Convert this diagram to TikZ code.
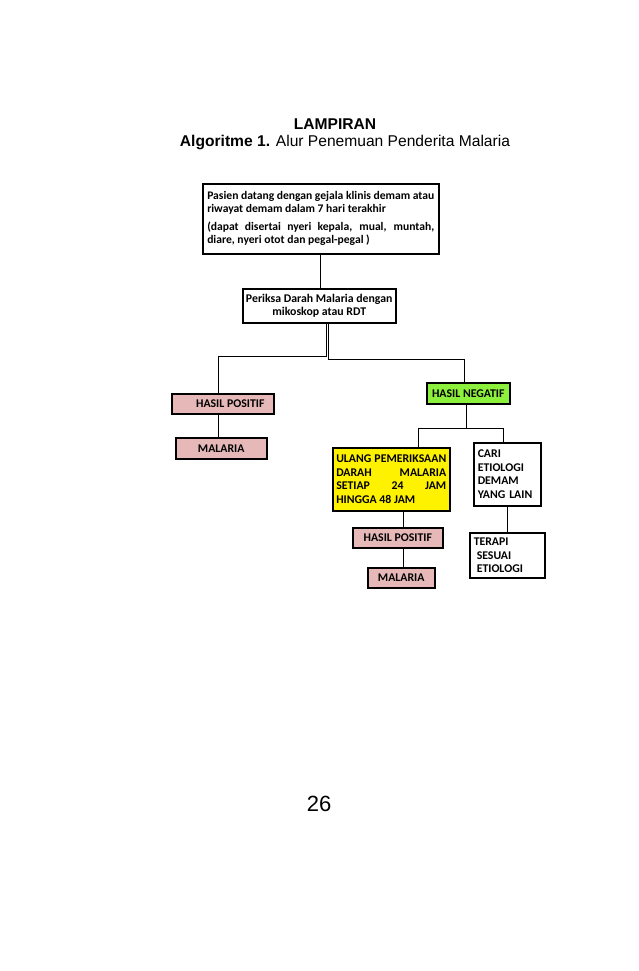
\documentclass[tikz,border=0pt]{standalone}
\usepackage{fontspec}
\setmainfont{Liberation Sans}
\newfontfamily\boxfont{Carlito}
\usetikzlibrary{positioning,calc}
\definecolor{pinkfill}{RGB}{230,185,184}
\definecolor{greenfill}{RGB}{140,240,60}
\tikzset{
  % block style is used for every box of the flowchart
  block/.style={draw, rectangle, line width=1.5pt, anchor=north west, inner sep=0pt,
  font=\boxfont\bfseries\fontsize{11.8}{13.5}\selectfont},
  pinkbox/.style={block, fill=pinkfill},
  link/.style={line width=1.4pt}}
\begin{document}
\begin{tikzpicture}[x=1pt, y=-1pt]
\useasboundingbox [fill=white] (0,0) rectangle (638,971);

\draw (335,124) node (title) {\fontsize{15.6}{18}\selectfont\bfseries LAMPIRAN};
\draw (345,143) node (subtitle) {\fontsize{15.6}{18}\selectfont\textbf{Algoritme 1.} Alur Penemuan Penderita Malaria};

\draw (202,183) node (gejala) [block, minimum width=236pt, minimum height=70pt] {};
\draw (gejala.center) node [font=\boxfont\bfseries\fontsize{11.6}{13}\selectfont, text width=227pt, align=justify]
  {\hyphenpenalty=10000 Pasien datang dengan gejala klinis demam atau\linebreak riwayat demam dalam 7 hari terakhir\par\vspace{5pt}
   (dapat disertai nyeri kepala, mual, muntah,\linebreak diare, nyeri otot dan pegal-pegal )};

\draw (242,288) node (periksa) [block, minimum width=153pt, minimum height=34pt, align=center]
  {Periksa Darah Malaria dengan\\mikoskop atau RDT};

\draw (171,393) node (pos1) [pinkbox, minimum width=102pt, minimum height=20pt] {\hspace{15pt}HASIL POSITIF};
\draw (175,437) node (mal1) [pinkbox, minimum width=91pt, minimum height=21pt] {MALARIA};

\draw (426,382) node (neg) [block, fill=greenfill, minimum width=83pt, minimum height=21pt] {HASIL NEGATIF};

\draw (332,447) node (ulang) [block, fill=yellow, minimum width=117pt, minimum height=63pt] {};
\draw (ulang.center) node [font=\boxfont\bfseries\fontsize{11.8}{13.5}\selectfont, text width=110pt, align=justify]
  {ULANG PEMERIKSAAN\linebreak DARAH MALARIA\linebreak SETIAP 24 JAM\linebreak HINGGA 48 JAM};

\draw (473,442) node (cari) [block, minimum width=67pt, minimum height=63pt, text width=59pt, align=left]
  {CARI\\ETIOLOGI\\DEMAM\\YANG LAIN};

\draw (352,527) node (pos2) [pinkbox, minimum width=90pt, minimum height=20pt] {HASIL POSITIF};
\draw (367,567) node (mal2) [pinkbox, minimum width=67pt, minimum height=20pt] {MALARIA};

\draw (469,532) node (terapi) [block, minimum width=75pt, minimum height=45pt, text width=67pt, align=left]
  {TERAPI\\\hspace{3pt}SESUAI\\\hspace{3pt}ETIOLOGI};

% connectors
\draw [link] (gejala.south) -- (gejala.south |- periksa.north);
\draw [link] ([xshift=7pt]periksa.south) -- ++(0,33) -| ([xshift=-4pt]pos1.north);
\draw [link] ([xshift=9.5pt]periksa.south) -- ++(0,36) -| ([xshift=-4pt]neg.north);
\draw [link] ([xshift=-4pt]pos1.south) -- ([xshift=-4pt]pos1.south |- mal1.north);

\draw [link] ([xshift=-2pt]neg.south) -- ++(0,24) coordinate (split);
\draw [link] (split) -| ([xshift=27.5pt]ulang.north);
\draw [link] (split) -| ([xshift=-3.5pt]cari.north);

\draw [link] ([xshift=6pt]pos2.north) -- ([xshift=6pt]pos2.north |- ulang.south);
\draw [link] ([xshift=6pt]pos2.south) -- ([xshift=6pt]pos2.south |- mal2.north);
\draw [link] (cari.south) -- (terapi.north);

\draw (319,804) node (page) {\fontsize{22}{26}\selectfont 26};

\end{tikzpicture}
\end{document}
